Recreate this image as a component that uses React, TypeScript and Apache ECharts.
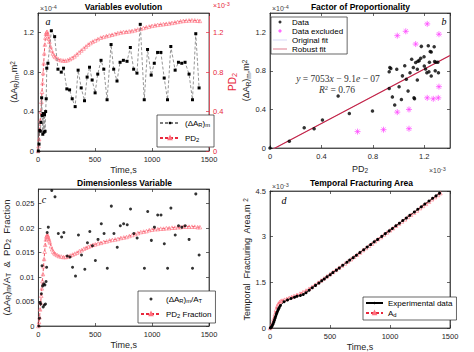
import React, { useEffect, useRef } from 'react';
import * as echarts from 'echarts';

// ---------- data ----------
// time of the measured points (s), shared by panels a, c, d
const TIME_M = [3, 9, 15, 20, 26, 32, 37, 42, 47, 52, 57, 62, 67, 72, 77, 87, 117, 146, 175, 204, 224, 253, 277, 300, 326, 352, 379, 408, 431, 452, 475, 501, 524, 553, 577, 606, 641, 664, 693, 720, 749, 781, 810, 839, 868, 897, 932, 961, 993, 1020, 1049, 1078, 1107, 1136, 1165, 1203, 1232, 1261, 1290, 1325, 1355, 1384, 1413];
// (ΔA_R)_m in units of 1e-4 m^2
const DA_M = [0, 0.07, 0.21, 0.2, 0.29, 0.54, 0.36, 0.17, 0.38, 0.19, 0.37, 0.2, 0.4, 0.53, 0.84, 0.89, 1.22, 1.16, 0.83, 0.8, 0.84, 0.63, 0.62, 0.53, 0.45, 0.82, 0.64, 0.51, 0.75, 0.85, 0.72, 0.59, 0.78, 0.92, 0.83, 0.52, 1.08, 0.83, 0.71, 0.9, 0.92, 0.91, 1.05, 0.83, 0.79, 1.285, 0.52, 1.03, 0.77, 0.89, 1.0, 1.0, 0.74, 0.52, 1.06, 0.82, 0.9, 0.89, 0.9, 0.78, 0.52, 1.19, 0.64];
// (ΔA_R)_m / A_T (dimensionless)
const DA_RATIO = [0, 0.0016, 0.0048, 0.0045, 0.0066, 0.0123, 0.0082, 0.0039, 0.0086, 0.0043, 0.0084, 0.0045, 0.0091, 0.012, 0.0191, 0.0202, 0.0277, 0.0264, 0.0189, 0.0182, 0.0191, 0.0143, 0.0141, 0.012, 0.0102, 0.0186, 0.0145, 0.0116, 0.017, 0.0193, 0.0164, 0.0134, 0.0177, 0.0209, 0.0189, 0.0118, 0.0245, 0.0189, 0.0161, 0.0205, 0.0209, 0.0207, 0.0239, 0.0189, 0.018, 0.0292, 0.0118, 0.0234, 0.0175, 0.0202, 0.0227, 0.0227, 0.0168, 0.0118, 0.0241, 0.0186, 0.0205, 0.0202, 0.0205, 0.0177, 0.0118, 0.027, 0.0145];
// experimental fracturing area in units of 1e-3 m^2
const EXP_AREA = [0, 0.02, 0.05, 0.09, 0.14, 0.2, 0.26, 0.32, 0.38, 0.44, 0.49, 0.54, 0.59, 0.63, 0.67, 0.74, 0.86, 0.92, 0.97, 1.01, 1.04, 1.07, 1.1, 1.16, 1.24, 1.32, 1.4, 1.48, 1.55, 1.61, 1.68, 1.75, 1.82, 1.9, 1.97, 2.06, 2.16, 2.23, 2.31, 2.39, 2.48, 2.57, 2.66, 2.74, 2.83, 2.91, 3.01, 3.1, 3.19, 3.27, 3.36, 3.44, 3.53, 3.61, 3.7, 3.81, 3.9, 3.98, 4.07, 4.17, 4.26, 4.34, 4.43];

// PD2 curve (units of 1e-3) and PD2 fraction
const TIME_PD = [0, 5, 10, 15, 20, 25, 30, 35, 40, 45, 50, 55, 60, 65, 70, 75, 80, 85, 90, 95, 100, 110, 120, 130, 140, 150, 165, 180, 200, 220, 240, 260, 280, 300, 320, 340, 360, 380, 400, 420, 440, 460, 480, 500, 525, 550, 575, 600, 625, 650, 675, 700, 725, 750, 775, 800, 825, 850, 875, 900, 925, 950, 975, 1000, 1025, 1050, 1075, 1100, 1125, 1150, 1175, 1200, 1225, 1250, 1275, 1300, 1325, 1350, 1375, 1400, 1420];
const PD2 = [0, 0.05, 0.12, 0.22, 0.31, 0.4, 0.5, 0.6, 0.69, 0.79, 0.89, 0.99, 1.08, 1.15, 1.19, 1.205, 1.21, 1.19, 1.165, 1.14, 1.11, 1.06, 1.02, 0.99, 0.97, 0.955, 0.94, 0.93, 0.922, 0.918, 0.917, 0.922, 0.933, 0.945, 0.96, 0.98, 1.0, 1.02, 1.04, 1.06, 1.08, 1.095, 1.11, 1.12, 1.135, 1.15, 1.158, 1.166, 1.173, 1.18, 1.188, 1.196, 1.203, 1.207, 1.21, 1.214, 1.218, 1.225, 1.233, 1.24, 1.248, 1.256, 1.263, 1.27, 1.275, 1.28, 1.284, 1.287, 1.291, 1.295, 1.3, 1.305, 1.31, 1.316, 1.32, 1.323, 1.325, 1.326, 1.325, 1.322, 1.32];
const PD2_FRAC = [0, 0.0008, 0.0018, 0.0034, 0.0048, 0.0062, 0.0077, 0.0092, 0.0106, 0.0122, 0.0137, 0.0152, 0.0166, 0.0177, 0.0183, 0.0185, 0.0186, 0.0183, 0.0179, 0.0175, 0.0171, 0.0163, 0.0157, 0.0152, 0.0149, 0.0147, 0.0145, 0.0143, 0.0142, 0.0141, 0.0141, 0.0142, 0.0144, 0.0146, 0.0148, 0.015, 0.0153, 0.0155, 0.0158, 0.016, 0.0162, 0.0164, 0.0166, 0.0167, 0.0169, 0.017, 0.0172, 0.0173, 0.0175, 0.0176, 0.0177, 0.0178, 0.018, 0.0181, 0.0182, 0.0184, 0.0186, 0.0188, 0.019, 0.0192, 0.0193, 0.0194, 0.0196, 0.0197, 0.0198, 0.0198, 0.0199, 0.0199, 0.02, 0.02, 0.0201, 0.0201, 0.0202, 0.0202, 0.0203, 0.0203, 0.0203, 0.0203, 0.0203, 0.0202, 0.0202];

// A_d model (units of 1e-3 m^2)
const TIME_AD = [0, 10, 20, 30, 40, 50, 60, 70, 80, 90, 100, 120, 140, 160, 180, 200, 225, 250, 275, 300, 325, 350, 375, 400, 425, 450, 475, 500, 525, 550, 575, 600, 625, 650, 675, 700, 725, 750, 775, 800, 825, 850, 875, 900, 925, 950, 975, 1000, 1025, 1050, 1075, 1100, 1125, 1150, 1175, 1200, 1225, 1250, 1275, 1300, 1325, 1350, 1375, 1400, 1420];
const A_D = [0, 0.06, 0.16, 0.3, 0.45, 0.6, 0.72, 0.8, 0.85, 0.88, 0.9, 0.93, 0.96, 0.99, 1.02, 1.05, 1.09, 1.13, 1.18, 1.23, 1.29, 1.35, 1.42, 1.49, 1.56, 1.63, 1.7, 1.77, 1.84, 1.91, 1.98, 2.05, 2.12, 2.19, 2.26, 2.34, 2.41, 2.48, 2.56, 2.63, 2.7, 2.77, 2.85, 2.92, 2.99, 3.07, 3.14, 3.21, 3.28, 3.36, 3.43, 3.5, 3.57, 3.65, 3.72, 3.79, 3.86, 3.94, 4.01, 4.08, 4.15, 4.23, 4.3, 4.37, 4.43];

// panel b: PD2 (1e-3) vs (ΔA_R)_m (1e-4)
const B_DATA_X = [0, 0.15, 0.266, 0.343, 0.408, 0.53, 0.617, 0.797, 0.927, 0.932, 0.94, 0.927, 0.952, 0.97, 0.986, 1.004, 1.022, 1.03, 1.048, 1.06, 1.074, 1.089, 1.102, 1.115, 1.12, 1.124, 1.133, 1.146, 1.146, 1.15, 1.16, 1.172, 1.177, 1.198, 1.2, 1.21, 1.22, 1.231, 1.236, 1.24, 1.246, 1.254, 1.254, 1.277, 1.28, 1.285, 1.29, 1.305, 1.31];
const B_DATA_Y = [0, 0.07, 0.21, 0.2, 0.29, 0.54, 0.358, 0.383, 0.616, 0.835, 0.824, 0.79, 0.53, 0.445, 0.817, 0.636, 0.504, 0.748, 0.852, 0.713, 0.59, 0.78, 0.92, 0.835, 0.52, 0.51, 0.887, 0.817, 0.706, 0.9, 0.906, 0.93, 1.054, 0.946, 0.85, 0.82, 0.78, 1.06, 0.79, 0.89, 1.0, 0.995, 0.747, 1.05, 0.896, 0.8, 0.89, 0.89, 0.78];
const B_EXCL_X = [0.681, 0.883, 0.99, 1.081, 1.081, 1.223, 1.27, 1.309, 1.314, 0.99, 1.056, 1.133, 1.223, 1.314];
const B_EXCL_Y = [0.17, 0.19, 0.372, 0.2, 0.4, 0.52, 0.51, 0.52, 0.636, 1.165, 1.21, 1.078, 1.287, 1.18];
const FIT_X = [0, 1.4];
const FIT_Y = [-0.028, 0.96];

// ticks [min, max, interval]
const TIME_TICKS = [0, 1500, 500];
const PD_TICKS = [0, 1.4, 0.4];
const DA_TICKS = [0, 1.4, 0.4];
const FRAC_TICKS = [0, 0.028, 0.005];
const AREA_TICKS = [0, 4.5, 1.5];

// ---------- styles ----------
const SANS = '"Liberation Sans", Arial, Helvetica, sans-serif';
const SERIF = '"Liberation Serif", "Times New Roman", serif';
const AX = '#262626';
const RED = '#e8283c';
const PINK = '#ff6f7e';
const MAG = '#ff44ff';
const STAR = 'path://M5,0L5,10M0,5L10,5M1.5,1.5L8.5,8.5M1.5,8.5L8.5,1.5';
const LINE_ICON = 'path://M0,0L24,0L24,1L0,1Z';

const zip = (a: number[], b: number[]) => a.map((v, i) => [v, b[i]]);

function rich(size: number, color: string) {
  const s = Math.round(size * 0.72 * 10) / 10;
  return {
    n: { fontSize: size, lineHeight: size + 2, verticalAlign: 'middle', color, fill: color, fontFamily: SANS },
    sub: { fontSize: s, lineHeight: Math.round(s * 0.8), verticalAlign: 'bottom', color, fill: color, fontFamily: SANS },
    sup: { fontSize: s, lineHeight: Math.round(s * 0.8), verticalAlign: 'top', color, fill: color, fontFamily: SANS },
  };
}

function axis(kind: 'x' | 'y', grid: number, t: number[], opts: any = {}) {
  const color = opts.color || AX;
  const main = !opts.secondary;
  return {
    type: 'value',
    gridIndex: grid,
    position: opts.position,
    min: t[0],
    max: t[1],
    interval: t[2],
    splitLine: { show: false },
    axisLine: { show: true, onZero: false, lineStyle: { color, width: 0.7 } },
    axisTick: { show: true, inside: true, length: 3, lineStyle: { color, width: 0.7 } },
    axisLabel: {
      show: main,
      fontSize: 7.5,
      color,
      margin: 4,
      fontFamily: SANS,
      showMaxLabel: opts.hideMax ? false : null,
      formatter: (v: number) => String(+v.toFixed(6)),
    },
    name: opts.name,
    nameLocation: 'middle',
    nameGap: opts.nameGap,
    nameRotate: kind === 'y' ? 90 : 0,
    nameTextStyle: { fontSize: opts.nameSize || 9, color, fontFamily: SANS, rich: rich(opts.nameSize || 9, color) },
  };
}

const LEGEND_TEXT: Record<string, string> = {
  a_dA: '{n|(ΔA}{sub|R}{n|)}{sub|m}',
  a_PD2: '{n|PD}{sub|2}',
  b_data: '{n|Data}',
  b_excl: '{n|Data excluded}',
  b_orig: '{n|Original fit}',
  b_robust: '{n|Robust fit}',
  c_ratio: '{n|(ΔA}{sub|R}{n|)}{sub|m}{n|/A}{sub|T}',
  c_frac: '{n|PD}{sub|2}{n| Fraction}',
  d_exp: '{n|Experimental data}',
  d_ad: '{n|A}{sub|d}',
};

function legend(names: any[], left: number, top: number, itemWidth: number, itemGap: number, padding: number[]) {
  return {
    data: names,
    orient: 'vertical',
    left,
    top,
    itemWidth,
    itemHeight: 3,
    itemGap,
    padding,
    borderColor: AX,
    borderWidth: 0.7,
    borderRadius: 0,
    backgroundColor: '#fff',
    selectedMode: false,
    formatter: (n: string) => LEGEND_TEXT[n],
    textStyle: { fontSize: 8, color: '#000', fontFamily: SANS, rich: rich(8, '#000') },
  };
}

function txt(x: number, y: number, text: string, o: any = {}) {
  return {
    type: 'text',
    x,
    y,
    z: 100,
    style: {
      text,
      fontSize: o.size || 9,
      fontFamily: o.family || SANS,
      fontWeight: o.weight || 'normal',
      fontStyle: o.style || 'normal',
      fill: o.color || '#000',
      align: o.align || 'center',
      verticalAlign: 'middle',
      rich: o.rich,
    },
  };
}

function multRich(color: string) {
  return {
    n: { fontSize: 7, lineHeight: 9, verticalAlign: 'middle', fill: color, fontFamily: SANS },
    sup: { fontSize: 5.5, lineHeight: 5, verticalAlign: 'top', fill: color, fontFamily: SANS },
  };
}

const eqRich = {
  i: { fontSize: 9.5, fontFamily: SERIF, fontStyle: 'italic', fill: '#333', lineHeight: 11, verticalAlign: 'middle' },
  r: { fontSize: 9.5, fontFamily: SERIF, fill: '#333', lineHeight: 11, verticalAlign: 'middle' },
  sup: { fontSize: 6.5, fontFamily: SERIF, fill: '#333', lineHeight: 6, verticalAlign: 'top' },
};

const triStyle = {
  symbol: 'triangle',
  symbolSize: 3.6,
  itemStyle: { color: 'rgba(255,255,255,0)', borderColor: PINK, borderWidth: 0.6 },
  lineStyle: { color: RED, width: 0.8, type: [3, 2] },
};

export default function App() {
  const ref = useRef<HTMLDivElement>(null);
  useEffect(() => {
    if (!ref.current) return;
    const chart = echarts.init(ref.current, undefined, { renderer: 'svg' });
    const option: any = {
      animation: false,
      backgroundColor: '#fff',
      grid: [
        { left: 38, top: 13, width: 171, height: 138 },
        { left: 270, top: 13, width: 180, height: 135 },
        { left: 38, top: 189, width: 171, height: 137 },
        { left: 270, top: 191, width: 180, height: 137 },
      ].map((g) => ({ ...g, show: true, borderColor: AX, borderWidth: 0.7, backgroundColor: '#fff' })),
      xAxis: [
        axis('x', 0, TIME_TICKS, { position: 'bottom', name: 'Time,s', nameGap: 14 }),
        axis('x', 1, PD_TICKS, { position: 'bottom', name: '{n|PD}{sub|2}', nameGap: 15, hideMax: true }),
        axis('x', 2, TIME_TICKS, { position: 'bottom', name: 'Time,s', nameGap: 14 }),
        axis('x', 3, TIME_TICKS, { position: 'bottom', name: 'Time,s', nameGap: 14 }),
        axis('x', 0, TIME_TICKS, { position: 'top', secondary: true }),
        axis('x', 1, PD_TICKS, { position: 'top', secondary: true }),
        axis('x', 2, TIME_TICKS, { position: 'top', secondary: true }),
        axis('x', 3, TIME_TICKS, { position: 'top', secondary: true }),
      ],
      yAxis: [
        axis('y', 0, DA_TICKS, { position: 'left', name: '{n|(ΔA}{sub|R}{n|)}{sub|m}{n|,m}{sup|2}', nameGap: 18, hideMax: true }),
        axis('y', 1, DA_TICKS, { position: 'left', name: '{n|(ΔA}{sub|R}{n|)}{sub|m}{n|,m}{sup|2}', nameGap: 16, hideMax: true }),
        axis('y', 2, FRAC_TICKS, { position: 'left', name: '{n|(ΔA}{sub|R}{n|)}{sub|m}{n|/A}{sub|T}{n|  &  PD}{sub|2}{n|  Fraction}', nameGap: 23, hideMax: true, nameSize: 9.5 }),
        axis('y', 3, AREA_TICKS, { position: 'left', name: '{n|Temporal  Fracturing  Area,m }{sup|2}', nameGap: 15 }),
        axis('y', 0, PD_TICKS, { position: 'right', color: RED, name: '{n|PD}{sub|2}', nameGap: 17, hideMax: true, nameSize: 10 }),
        axis('y', 1, DA_TICKS, { position: 'right', secondary: true }),
        axis('y', 2, FRAC_TICKS, { position: 'right', secondary: true }),
        axis('y', 3, AREA_TICKS, { position: 'right', secondary: true }),
      ],
      legend: [
        legend(['a_dA', 'a_PD2'], 157, 115, 20, 6, [4, 4, 4, 2]),
        legend(
          ['b_data', { name: 'b_excl', icon: STAR }, { name: 'b_orig', icon: LINE_ICON }, { name: 'b_robust', icon: LINE_ICON }],
          271, 17, 14, 1, [1, 4, 1, 2]
        ),
        legend(['c_ratio', 'c_frac'], 138, 291, 20, 6, [4, 4, 4, 2]),
        legend(['d_exp', 'd_ad'], 363, 297, 17, 2, [2, 4, 2, 2]),
      ],
      series: [
        // panel a
        { name: 'a_PD2', type: 'line', xAxisIndex: 0, yAxisIndex: 4, data: zip(TIME_PD, PD2), z: 2, ...triStyle },
        {
          name: 'a_dA', type: 'line', xAxisIndex: 0, yAxisIndex: 0, data: zip(TIME_M, DA_M), z: 3,
          symbol: 'rect', symbolSize: 3, itemStyle: { color: '#000' },
          lineStyle: { color: '#7a7a7a', width: 0.8, type: [3, 2] },
        },
        // panel b
        { name: 'b_orig', type: 'line', xAxisIndex: 1, yAxisIndex: 1, data: zip(FIT_X, FIT_Y), symbol: 'none', z: 1, lineStyle: { color: '#b9b9f2', width: 0.8 }, itemStyle: { color: '#b9b9f2' } },
        { name: 'b_robust', type: 'line', xAxisIndex: 1, yAxisIndex: 1, data: zip(FIT_X, FIT_Y), symbol: 'none', z: 2, lineStyle: { color: '#c8203f', width: 1.1 }, itemStyle: { color: '#c8203f' } },
        { name: 'b_data', type: 'scatter', xAxisIndex: 1, yAxisIndex: 1, data: zip(B_DATA_X, B_DATA_Y), symbol: 'circle', symbolSize: 3.5, z: 3, itemStyle: { color: '#000' } },
        { name: 'b_excl', type: 'scatter', xAxisIndex: 1, yAxisIndex: 1, data: zip(B_EXCL_X, B_EXCL_Y), symbol: STAR, symbolSize: 6, z: 3, itemStyle: { color: MAG, borderColor: MAG, borderWidth: 0.9 } },
        // panel c
        { name: 'c_frac', type: 'line', xAxisIndex: 2, yAxisIndex: 2, data: zip(TIME_PD, PD2_FRAC), z: 2, ...triStyle },
        { name: 'c_ratio', type: 'scatter', xAxisIndex: 2, yAxisIndex: 2, data: zip(TIME_M, DA_RATIO), symbol: 'circle', symbolSize: 3, z: 3, itemStyle: { color: '#000' } },
        // panel d
        { name: 'd_ad', type: 'line', xAxisIndex: 3, yAxisIndex: 3, data: zip(TIME_AD, A_D), z: 2, ...triStyle },
        {
          name: 'd_exp', type: 'line', xAxisIndex: 3, yAxisIndex: 3, data: zip(TIME_M, EXP_AREA), z: 3,
          symbol: 'circle', symbolSize: 3, itemStyle: { color: '#000' }, lineStyle: { color: '#000', width: 0.8 },
        },
      ],
      graphic: [
        txt(123.5, 7, 'Variables evolution', { size: 8.5, weight: 'bold' }),
        txt(360.5, 7, 'Factor of Proportionality', { size: 8.5, weight: 'bold' }),
        txt(124.5, 183, 'Dimensionless Variable', { size: 8.5, weight: 'bold' }),
        txt(361.5, 183, 'Temporal Fracturing Area', { size: 8.5, weight: 'bold' }),
        txt(48, 21, 'a', { size: 10, family: SERIF, style: 'italic' }),
        txt(444, 21, 'b', { size: 10, family: SERIF, style: 'italic' }),
        txt(44, 199, 'c', { size: 10, family: SERIF, style: 'italic' }),
        txt(284, 200, 'd', { size: 10, family: SERIF, style: 'italic' }),
        txt(40, 8.5, '{n|×10}{sup|-4}', { align: 'left', rich: multRich('#444') }),
        txt(213, 5.5, '{n|×10}{sup|-3}', { align: 'left', rich: multRich(RED) }),
        txt(272, 8.5, '{n|×10}{sup|-4}', { align: 'left', rich: multRich('#444') }),
        txt(429, 170, '{n|×10}{sup|-3}', { align: 'left', rich: multRich('#444') }),
        txt(272, 186, '{n|×10}{sup|-3}', { align: 'left', rich: multRich('#444') }),
        txt(338, 79, '{i|y} {r|= 7053}{i|x} {r|− 9.1}{i|e} {r|− 07}', { rich: eqRich }),
        txt(337, 89.5, '{i|R}{sup|2} {r|= 0.76}', { rich: eqRich }),
      ],
    };
    chart.setOption(option);
    return () => chart.dispose();
  }, []);
  return (
    <div
      ref={ref}
      style={{ position: 'fixed', left: 0, top: 0, width: 474, height: 352, background: '#fff' }}
    />
  );
}
